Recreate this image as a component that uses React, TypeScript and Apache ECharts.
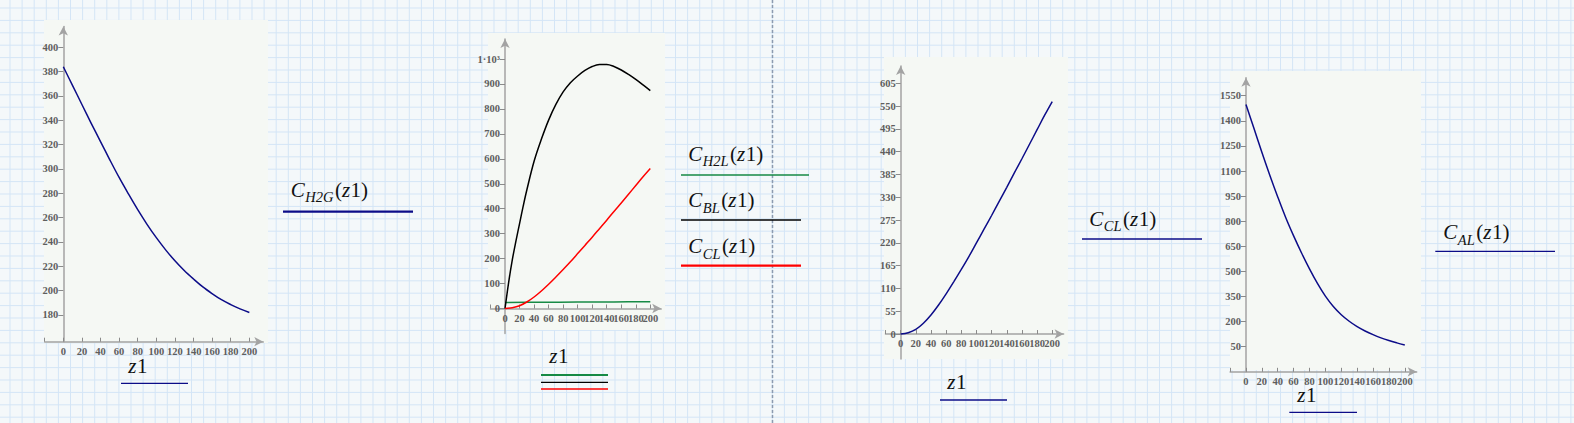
import React, { useEffect, useRef } from "react";
import * as echarts from "echarts";

// ---------- data ----------
const zGrid = [0, 10, 20, 30, 40, 50, 60, 70, 80, 90, 100, 110, 120, 130, 140, 150, 160, 170, 180, 190, 200];
const cH2G = [384, 368.5, 353, 337.5, 322.5, 307.5, 293, 279.5, 266.5, 254.5, 243.5, 233.5, 224.5, 216.5, 209.5, 203, 197.5, 192.5, 188.5, 185, 182];

const zBL = [0, 5, 10, 15, 20, 25, 30, 40, 50, 60, 70, 80, 90, 100, 110, 120, 130, 140, 150, 160, 170, 180, 190, 200];
const cBL = [0, 105, 195, 270, 340, 410, 475, 590, 678, 755, 818, 868, 905, 932, 954, 970, 978, 978, 970, 956, 938, 918, 896, 873];

const zH2L = [0, 50, 100, 150, 200];
const cH2L = [24, 25, 25.8, 26.5, 27];

const cCL = [0, 3, 11, 26, 46, 70, 97, 126, 156, 187, 220, 253, 286, 320, 354, 389, 423, 458, 493, 528, 561];
const cAL = [1498, 1355, 1212, 1075, 945, 822, 712, 610, 515, 428, 352, 290, 241, 202, 170, 144, 122, 103, 87, 73, 60];

const xTicks = [-20, 0, 20, 40, 60, 80, 100, 120, 140, 160, 180, 200];
const xLabels = [0, 20, 40, 60, 80, 100, 120, 140, 160, 180, 200];
const xLabelsEven = [0, 40, 80, 120, 160, 200];
const xLabelsOdd = [20, 60, 100, 140, 180];
const yLabels1 = [180, 200, 220, 240, 260, 280, 300, 320, 340, 360, 380, 400];
const yLabels2 = [0, 100, 200, 300, 400, 500, 600, 700, 800, 900, 1000];
const yLabels3 = [0, 55, 110, 165, 220, 275, 330, 385, 440, 495, 550, 605];
const yLabels4 = [50, 200, 350, 500, 650, 800, 950, 1100, 1250, 1400, 1550];

const pair = (xs: number[], ys: number[]) => xs.map((x, i) => [x, ys[i]]);

const NAVY = "#0c0c88";
const GREEN = "#178a45";
const RED = "#ff0000";
const BLACK = "#000000";
const SERIF = '"Liberation Serif", "DejaVu Serif", serif';

let measureCtx: CanvasRenderingContext2D | null = null;
function textWidth(text: string, font: string) {
  if (!measureCtx) measureCtx = document.createElement("canvas").getContext("2d");
  if (!measureCtx) return text.length * 8;
  measureCtx.font = font;
  return measureCtx.measureText(text).width;
}

function buildOption() {
  const XMIN = -20;
  const XMAX = 215;
  const grids = [
    { left: 44.7, top: 26.6, width: 218.6, height: 315.1 },
    { left: 490.5, top: 39.05, width: 170.7, height: 294.4 },
    { left: 885.5, top: 65.9, width: 178.1, height: 293.0 },
    { left: 1230.1, top: 77.8, width: 186.6, height: 294.0 },
  ];
  const yRanges = [
    [158, 417, yLabels1],
    [-100, 1080, yLabels2],
    [-60, 647, yLabels3],
    [-100, 1657, yLabels4],
  ] as any[];

  const labelStyle = {
    fontFamily: SERIF,
    fontWeight: "bold" as const,
    fontSize: 10.5,
    color: "#5e5e5e",
  };

  const xOffset = (i: number) => {
    const [ymin, ymax] = yRanges[i];
    if (ymin >= 0) return 0;
    const g = grids[i];
    return -(g.height * (0 - ymin)) / (ymax - ymin);
  };
  const yOffset = (i: number) => {
    const g = grids[i];
    return -(g.width * (0 - XMIN)) / (XMAX - XMIN);
  };
  const xOnZero = [false, true, true, false];
  // narrow plots: labels split over two overlapping axes so none is dropped
  const split = [false, true, true, false];

  const xAxis: any[] = grids.map((_, i) => ({
    type: "value",
    gridIndex: i,
    min: XMIN,
    max: XMAX,
    position: "bottom",
    offset: xOnZero[i] ? xOffset(i) : 0,
    axisLine: {
      onZero: false,
      symbol: ["none", "arrow"],
      symbolSize: [7, 9],
      lineStyle: { color: "#a3a3a3", width: 1.5 },
    },
    axisTick: { customValues: xTicks, inside: true, length: 4, lineStyle: { color: "#8a8a8a" } },
    axisLabel: {
      customValues: split[i] ? xLabelsEven : xLabels,
      margin: 4,
      hideOverlap: false,
      ...labelStyle,
    },
    splitLine: { show: false },
  }));
  grids.forEach((_, i) => {
    if (!split[i]) return;
    xAxis.push({
      type: "value",
      gridIndex: i,
      min: XMIN,
      max: XMAX,
      position: "bottom",
      offset: xOnZero[i] ? xOffset(i) : 0,
      axisLine: { show: false, onZero: false },
      axisTick: { show: false },
      axisLabel: { customValues: xLabelsOdd, margin: 4, hideOverlap: false, ...labelStyle },
      splitLine: { show: false },
    });
  });

  const yAxis = grids.map((_, i) => ({
    type: "value",
    gridIndex: i,
    min: yRanges[i][0],
    max: yRanges[i][1],
    position: "left",
    offset: yOffset(i),
    axisLine: {
      show: true,
      onZero: false,
      symbol: ["none", "arrow"],
      symbolSize: [7, 9],
      lineStyle: { color: "#a3a3a3", width: 1.5 },
    },
    axisTick: { show: true, customValues: yRanges[i][2], length: 5, lineStyle: { color: "#8a8a8a" } },
    axisLabel: {
      customValues: yRanges[i][2],
      margin: 5,
      hideOverlap: false,
      ...labelStyle,
      formatter: (v: number) => (i === 1 && v === 1000 ? "1·10³" : String(v)),
    },
    splitLine: { show: false },
  }));

  const line = (xi: number, data: number[][], color: string, width = 1.5) => ({
    type: "line",
    xAxisIndex: xi,
    yAxisIndex: xi,
    data,
    showSymbol: false,
    smooth: 0.35,
    lineStyle: { color, width },
    itemStyle: { color },
    z: 5,
  });

  const series = [
    line(0, pair(zGrid, cH2G), NAVY),
    line(1, pair(zH2L, cH2L), GREEN),
    line(1, pair(zBL, cBL), BLACK),
    line(1, pair(zGrid, cCL), RED),
    line(2, pair(zGrid, cCL), NAVY),
    line(3, pair(zGrid, cAL), NAVY),
  ];

  // ---------- decoration ----------
  const graphic: any[] = [];
  for (let x = 10; x < 1574; x += 12.1) {
    graphic.push({ type: "line", z: -20, silent: true, shape: { x1: x, y1: 0, x2: x, y2: 423 }, style: { stroke: "#d4e5f6", lineWidth: 1 } });
  }
  for (let y = 8; y < 423; y += 12.4) {
    graphic.push({ type: "line", z: -20, silent: true, shape: { x1: 0, y1: y, x2: 1574, y2: y }, style: { stroke: "#d4e5f6", lineWidth: 1 } });
  }
  const bgs = [
    [44, 20, 224, 323],
    [488, 33, 177, 297],
    [884, 57, 184, 302],
    [1230, 71, 191, 299],
  ];
  bgs.forEach(([x, y, w, h]) =>
    graphic.push({ type: "rect", z: -10, silent: true, shape: { x, y, width: w, height: h }, style: { fill: "#f5f8f4" } })
  );
  graphic.push({
    type: "line",
    z: -5,
    silent: true,
    shape: { x1: 772.5, y1: 0, x2: 772.5, y2: 423 },
    style: { stroke: "#8d9bb0", lineWidth: 1.5, lineDash: [3, 2] },
  });

  const MAIN = 21;
  const SUB = 14.5;
  const fontOf = (size: number, italic: boolean) => `${italic ? "italic " : ""}${size}px ${SERIF}`;
  const txt = (x: number, baseline: number, text: string, size: number, italic: boolean) => ({
    type: "text",
    z: 10,
    silent: true,
    x,
    y: baseline - size * 0.33,
    style: {
      text,
      font: fontOf(size, italic),
      fill: "#111111",
      align: "left",
      verticalAlign: "middle",
      textAlign: "left",
      textVerticalAlign: "middle",
    },
  });
  const zArg = (x: number, baseline: number, parens: boolean) => {
    const out: any[] = [];
    let cx = x;
    const parts: [string, boolean][] = parens
      ? [["(", false], ["z", true], ["1", false], [")", false]]
      : [["z", true], ["1", false]];
    parts.forEach(([t, it]) => {
      out.push(txt(cx, baseline, t, MAIN, it));
      cx += textWidth(t, fontOf(MAIN, it)) + (t === "z" ? 0.5 : 0);
    });
    return out;
  };
  const label = (x: number, baseline: number, sub: string) => {
    const wC = textWidth("C", fontOf(MAIN, true));
    const subX = x + wC + 0.5;
    const wS = textWidth(sub, fontOf(SUB, true));
    return [
      txt(x, baseline, "C", MAIN, true),
      txt(subX, baseline + 5, sub, SUB, true),
      ...zArg(subX + wS + 1.5, baseline, true),
    ];
  };
  const ul = (x1: number, x2: number, y: number, color: string, w: number) => ({
    type: "line",
    z: 10,
    silent: true,
    shape: { x1, y1: y, x2, y2: y },
    style: { stroke: color, lineWidth: w },
  });

  graphic.push(
    ...label(290.7, 196.7, "H2G"),
    ul(283, 413, 211.7, NAVY, 2.2),
    ...zArg(128.3, 372.5, false),
    ul(121, 188, 383.3, NAVY, 1.2),

    ...label(688.3, 161, "H2L"),
    ul(681, 809, 175, GREEN, 1.3),
    ...label(688.3, 207.3, "BL"),
    ul(681, 801, 220, BLACK, 1.3),
    ...label(688.3, 253.3, "CL"),
    ul(681, 801, 265.7, RED, 2.2),
    ...zArg(549.3, 363.3, false),
    ul(541, 608, 375, GREEN, 2.2),
    ul(541, 608, 382.3, BLACK, 1.3),
    ul(541, 608, 389, RED, 1.3),

    ...label(1089.3, 226, "CL"),
    ul(1082, 1202, 239, NAVY, 1.3),
    ...zArg(947.3, 389.3, false),
    ul(940, 1007, 400, NAVY, 1.3),

    ...label(1443.3, 239.3, "AL"),
    ul(1435.3, 1555, 251.3, NAVY, 1.3),
    ...zArg(1297.3, 402, false),
    ul(1289.3, 1357, 412.3, NAVY, 1.3)
  );

  return {
    animation: false,
    backgroundColor: "#f4f8fa",
    grid: grids.map((g) => ({ ...g, containLabel: false })),
    xAxis,
    yAxis,
    series,
    graphic: { elements: graphic },
  };
}

export default function App() {
  const ref = useRef<HTMLDivElement>(null);
  useEffect(() => {
    if (!ref.current) return;
    const chart = echarts.init(ref.current, undefined, { renderer: "svg" });
    chart.setOption(buildOption() as any);
    return () => chart.dispose();
  }, []);
  return (
    <div
      ref={ref}
      style={{ position: "fixed", left: 0, top: 0, width: 1574, height: 423 }}
    />
  );
}
